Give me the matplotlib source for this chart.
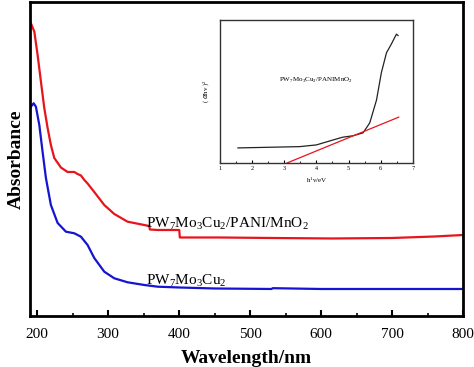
import matplotlib
matplotlib.use("Agg")
import matplotlib.pyplot as plt
from matplotlib.ticker import MultipleLocator

plt.rcParams['font.family'] = ['Liberation Serif', 'DejaVu Serif']
plt.rcParams['mathtext.fontset'] = 'custom'
plt.rcParams['mathtext.rm'] = 'Liberation Serif'

# main spectra (wavelength nm, absorbance arb.)
wl_red = [190, 191.3, 196.1, 200.7, 205.4, 210.1, 214.8, 219.4, 224.2, 233.5, 242.9, 252.4,
          257, 261.7, 266.5, 271.1, 280.5, 294.6, 308.7, 327.4, 355.6, 358.0, 358.8, 369.7,
          400.2, 401.0, 457, 530, 616, 700, 760, 800]
abs_red = [2.94, 2.927, 2.843, 2.61, 2.343, 2.08, 1.88, 1.71, 1.58, 1.485, 1.44, 1.44,
           1.42, 1.405, 1.36, 1.325, 1.24, 1.11, 1.02, 0.943, 0.903, 0.90, 0.865, 0.86,
           0.86, 0.785, 0.785, 0.78, 0.775, 0.78, 0.795, 0.81]

wl_blue = [191.3, 195.1, 198.3, 203.1, 207.7, 212.4, 219.4, 228.9, 240.6, 252.4, 261.7, 271.1,
           280.5, 294.6, 308.7, 327.4, 351, 369.7, 400, 450, 530, 532, 600, 700, 800]
abs_blue = [2.093, 2.127, 2.093, 1.91, 1.643, 1.38, 1.11, 0.93, 0.843, 0.827, 0.793, 0.71,
            0.58, 0.443, 0.377, 0.337, 0.31, 0.293, 0.285, 0.275, 0.27, 0.278, 0.27, 0.27, 0.27]

# inset Tauc plot
hv = [1.56, 3.48, 4.0, 4.51, 4.82, 5.14, 5.45, 5.66, 5.87, 6.02, 6.18, 6.33, 6.49, 6.54]
ahv2 = [0.105, 0.114, 0.126, 0.16, 0.18, 0.19, 0.21, 0.28, 0.44, 0.63, 0.77, 0.83, 0.90, 0.89]
fit_hv = [3.09, 6.56]
fit_y = [0.0, 0.32]

fig = plt.figure(figsize=(4.74, 3.67), dpi=100)
ax = fig.add_axes([0.0633, 0.139, 0.9137, 0.8556])
ax.plot(wl_red, abs_red, color='#e8141c', lw=1.6)
ax.plot(wl_blue, abs_blue, color='#1414d2', lw=1.6)
ax.set_xlim(190, 800)
ax.set_ylim(0, 3.14)
ax.set_yticks([])
ax.xaxis.set_major_locator(MultipleLocator(100))
ax.xaxis.set_minor_locator(MultipleLocator(50))
ax.tick_params(axis='x', which='major', direction='in', length=4, width=1.5, labelsize=11, pad=9)
ax.tick_params(axis='x', which='minor', direction='in', length=2.5, width=1.2)
for s in ax.spines.values():
    s.set_linewidth(2)
ax.set_xlabel('Wavelength/nm', fontsize=14, fontweight='bold', labelpad=6)
ax.set_ylabel('Absorbance', fontsize=14, fontweight='bold', labelpad=4)
ax.text(353, 0.92, r'PW$_7$Mo$_3$Cu$_2$/PANI/MnO$_2$', fontsize=11, va='center')
ax.text(353, 0.35, r'PW$_7$Mo$_3$Cu$_2$', fontsize=11, va='center')

ins = fig.add_axes([0.464, 0.556, 0.407, 0.39])
ins.plot(hv, ahv2, color='#222222', lw=0.9)
ins.plot(fit_hv, fit_y, color='#e8141c', lw=0.9)
ins.set_xlim(1, 7)
ins.set_ylim(0, 1)
ins.set_yticks([])
ins.xaxis.set_major_locator(MultipleLocator(1))
ins.xaxis.set_minor_locator(MultipleLocator(0.5))
ins.tick_params(axis='x', which='major', direction='in', length=2.5, width=0.8, labelsize=4.5, pad=2)
ins.tick_params(axis='x', which='minor', direction='in', length=1.5, width=0.6)
for s in ins.spines.values():
    s.set_linewidth(1)
    s.set_color('#333333')
ins.set_xlabel(r'h$^1$v/eV', fontsize=5, labelpad=3)
ins.set_ylabel(r'( $\alpha$hv )$^2$', fontsize=5, labelpad=6)
ins.text(4.0, 0.58, r'PW$_7$Mo$_3$Cu$_2$/PANIMnO$_2$', fontsize=5, ha='center', va='center')

fig.savefig('out.png', dpi=100)
